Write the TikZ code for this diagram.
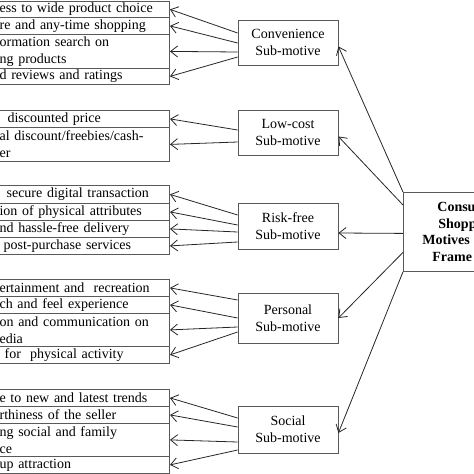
\documentclass[tikz,border=0pt]{standalone}
\usepackage{fontspec}
\setmainfont{Liberation Serif}
\usetikzlibrary{arrows.meta}

\begin{document}
\begin{tikzpicture}[x=1pt, y=-1pt,
    row/.style={draw=black!65, line width=0.8pt, anchor=north east, text width=166pt, align=left,
      inner xsep=4pt, inner ysep=0pt, minimum height=17pt, font=\fontsize{14}{17}\selectfont},
    sub/.style={draw=black!65, line width=0.8pt, minimum width=100pt, minimum height=46pt,
      align=center, inner sep=0pt, font=\fontsize{14}{17}\selectfont},
    fwbox/.style={draw=black!65, line width=0.8pt, anchor=north west, text width=80pt, align=left,
      inner xsep=19pt, inner ysep=0pt, minimum height=79pt, font=\bfseries\fontsize{14}{16.5}\selectfont},
    arr/.style={-{Straight Barb[length=7pt,width=11pt]}, line width=0.8pt, black!85}
  ]
    \useasboundingbox (0,0) rectangle (474,474);

    % convenience
    \node[row, minimum height=16pt] (c1) at (170,1) {ess to wide product choice};
    \node[row] (c2) at (170,17) {re and any-time shopping};
    \node[row, minimum height=34pt] (c3) at (170,34) {ormation search on\\ng products};
    \node[row, minimum height=16pt] (c4) at (170,68) {d reviews and ratings};

    % low-cost
    \node[row] (l1) at (170,110) {\hspace*{8pt}discounted price};
    \node[row, minimum height=34pt] (l2) at (170,127) {al discount/freebies/cash-\\er};

    % risk-free
    \node[row, minimum height=18pt] (r1) at (170,185) {\hspace*{7pt}secure digital transaction};
    \node[row] (r2) at (170,203) {ion of physical attributes};
    \node[row] (r3) at (170,220) {nd hassle-free delivery};
    \node[row] (r4) at (170,237) {\hspace*{4pt}post-purchase services};

    % personal
    \node[row] (p1) at (170,279) {ertainment and~ recreation};
    \node[row] (p2) at (170,296) {ch and feel experience};
    \node[row, minimum height=33pt] (p3) at (170,313) {on and communication on\\edia};
    \node[row] (p4) at (170,346) {\hspace*{5pt}for~ physical activity};

    % social
    \node[row] (s1) at (170,389) {e to new and latest trends};
    \node[row] (s2) at (170,406) {rthiness of the seller};
    \node[row, minimum height=33pt] (s3) at (170,423) {ng social and family\\ce};
    \node[row] (s4) at (170,456) {up attraction};

    % sub-motives
    \node[sub, minimum height=45pt] (conv) at (288,42.5) {Convenience\\Sub-motive};
    \node[sub, minimum height=45pt] (low) at (288,132.5) {Low-cost\\Sub-motive};
    \node[sub] (risk) at (288,226) {Risk-free\\Sub-motive};
    \node[sub, minimum height=50pt] (pers) at (288,318) {Personal\\Sub-motive};
    \node[sub, minimum height=47pt] (soc) at (288,429.5) {Social\\Sub-motive};

    \node[fwbox] (csm) at (403,192) {\hspace*{15pt}Consu\\\hspace*{16pt}Shopp\\Motives\\\hspace*{10pt}Frame};

    % framework to sub-motives
    \draw[arr] (csm.north west) -- ([yshift=-4pt]conv.east);
    \draw[arr] ([yshift=-13pt]csm.north west) -- ([yshift=-4pt]low.east);
    \draw[arr] ([yshift=-1.5pt]csm.west) -- ([yshift=-7pt]risk.east);
    \draw[arr] ([yshift=-20.5pt]csm.west) -- (pers.east);
    \draw[arr] (csm.south west) -- ([yshift=-3.5pt]soc.east);

    % sub-motives to items
    \foreach \r/\s in {c1/9.5, c2/-0.5, c3/-9.5, c4/-14.5}
      \draw[arr] ([yshift=\s pt]conv.west) -- (\r.east);
    \foreach \r/\s in {l1/2.5, l2/-9.5}
      \draw[arr] ([yshift=\s pt]low.west) -- (\r.east);
    \foreach \r/\s in {r1/11, r2/1, r3/-6, r4/-16}
      \draw[arr] ([yshift=\s pt]risk.west) -- (\r.east);
    \foreach \r/\s in {p1/18, p2/0, p3/-9, p4/-14}
      \draw[arr] ([yshift=\s pt]pers.west) -- (\r.east);
    \foreach \r/\s in {s1/11.5, s2/2.5, s3/-12.5, s4/-20.5}
      \draw[arr] ([yshift=\s pt]soc.west) -- (\r.east);
  \end{tikzpicture}
\end{document}
